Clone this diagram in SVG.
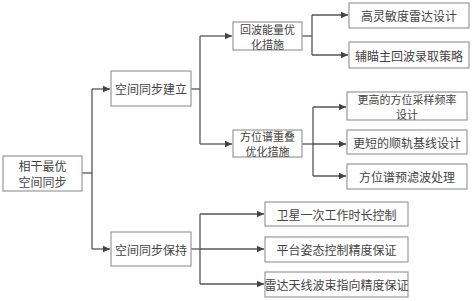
<svg xmlns="http://www.w3.org/2000/svg" width="474" height="301" viewBox="0 0 474 301">
<style>
.box{fill:#fff;stroke:#999;stroke-width:1.2}
.t{font-family:"Noto Sans CJK SC","Liberation Serif",serif;font-size:12px;fill:#444;text-anchor:middle;dominant-baseline:central}
.s{font-size:11px}
.c{fill:none;stroke:#555;stroke-width:1.3}
</style>
<defs>
<marker id="ar" markerWidth="8" markerHeight="8" refX="7" refY="4" orient="auto" markerUnits="userSpaceOnUse">
<path d="M0,0.8 L7,4 L0,7.2 Z" fill="#444"/>
</marker>
</defs>
<rect width="474" height="301" fill="#fff"/>
<g id="connectors">
<path class="c" d="M82,173 H92"/>
<path class="c" d="M92,89 V249"/>
<path class="c" d="M92,89 H110" marker-end="url(#ar)"/>
<path class="c" d="M92,249 H110" marker-end="url(#ar)"/>
<path class="c" d="M191,89 H200"/>
<path class="c" d="M200,36 V144"/>
<path class="c" d="M200,36 H232" marker-end="url(#ar)"/>
<path class="c" d="M200,144 H232" marker-end="url(#ar)"/>
<path class="c" d="M302,36 H312"/>
<path class="c" d="M312,15 V55"/>
<path class="c" d="M312,15 H348" marker-end="url(#ar)"/>
<path class="c" d="M312,55 H348" marker-end="url(#ar)"/>
<path class="c" d="M302,144 H313"/>
<path class="c" d="M313,107 V176"/>
<path class="c" d="M313,107 H346" marker-end="url(#ar)"/>
<path class="c" d="M313,144 H346" marker-end="url(#ar)"/>
<path class="c" d="M313,176 H346" marker-end="url(#ar)"/>
<path class="c" d="M191,249 H200"/>
<path class="c" d="M200,214 V284"/>
<path class="c" d="M200,214 H264" marker-end="url(#ar)"/>
<path class="c" d="M200,249 H264" marker-end="url(#ar)"/>
<path class="c" d="M200,284 H264" marker-end="url(#ar)"/>
</g>
<g id="root"><rect class="box" x="3" y="156" width="79" height="35"/><text class="t" x="42.5" y="165.5">相干最优</text><text class="t" x="42.5" y="181">空间同步</text></g>
<g id="build"><rect class="box" x="111" y="71" width="80" height="35"/><text class="t" x="151" y="88.5">空间同步建立</text></g>
<g id="keep"><rect class="box" x="111" y="232" width="80" height="34"/><text class="t" x="151" y="249">空间同步保持</text></g>
<g id="echo"><rect class="box" x="233" y="22" width="69" height="28"/><text class="t s" x="267.5" y="28.5">回波能量优</text><text class="t s" x="267.5" y="43.5">化措施</text></g>
<g id="azi"><rect class="box" x="233" y="130" width="69" height="27"/><text class="t s" x="267.5" y="136">方位谱重叠</text><text class="t s" x="267.5" y="151">优化措施</text></g>
<g id="n1"><rect class="box" x="349" y="3" width="120" height="25"/><text class="t" x="409" y="15.5">高灵敏度雷达设计</text></g>
<g id="n2"><rect class="box" x="349" y="42" width="120" height="26"/><text class="t" x="409" y="55">辅瞄主回波录取策略</text></g>
<g id="n3"><rect class="box" x="347" y="92" width="120" height="28"/><text class="t s" x="407" y="98.5">更高的方位采样频率</text><text class="t s" x="407" y="113.5">设计</text></g>
<g id="n4"><rect class="box" x="347" y="130" width="120" height="24"/><text class="t" x="407" y="142">更短的顺轨基线设计</text></g>
<g id="n5"><rect class="box" x="347" y="164" width="120" height="25"/><text class="t" x="407" y="176.5">方位谱预滤波处理</text></g>
<g id="n6"><rect class="box" x="265" y="202" width="143" height="24"/><text class="t" x="336.5" y="214">卫星一次工作时长控制</text></g>
<g id="n7"><rect class="box" x="265" y="237" width="143" height="25"/><text class="t" x="336.5" y="249.5">平台姿态控制精度保证</text></g>
<g id="n8"><rect class="box" x="265" y="272" width="143" height="25"/><text class="t" x="336.5" y="284.5">雷达天线波束指向精度保证</text></g>
</svg>
